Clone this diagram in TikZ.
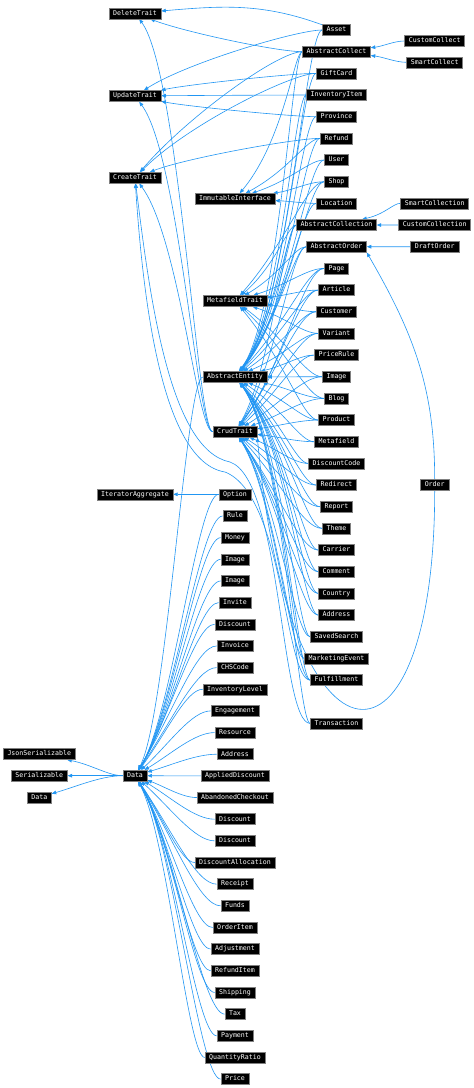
\documentclass[tikz,border=0pt]{standalone}
\usepackage{fontspec}
\setmonofont{DejaVu Sans Mono}
\usetikzlibrary{arrows.meta}
\definecolor{edgeblue}{RGB}{33,150,243}
\definecolor{boxline}{RGB}{128,128,128}
\pgfdeclarelayer{background}
\pgfsetlayers{background,main}
\newdimen\childx \newdimen\childy \newdimen\parentx \newdimen\parenty
% arrow from a class to the class it extends, bent like a dot spline
\newcommand{\inherits}[2]{%
  \pgfextractx{\childx}{\pgfpointanchor{#1}{west}}%
  \pgfextracty{\childy}{\pgfpointanchor{#1}{west}}%
  \pgfextractx{\parentx}{\pgfpointanchor{#2}{east}}%
  \pgfextracty{\parenty}{\pgfpointanchor{#2}{east}}%
  \pgfmathsetmacro\cax{\childx-min(25,0.3*(\childx-\parentx))}%
  \pgfmathsetmacro\cay{\childy}%
  \pgfmathsetmacro\cbx{\parentx+min(25,0.35*(\childx-\parentx))}%
  \pgfmathsetmacro\cby{\parenty+max(-60,min(60,0.5*(\childy-\parenty)))}%
  \draw[link] (#1.west) .. controls (\cax,\cay) and (\cbx,\cby) .. (#2);}

\begin{document}
\begin{tikzpicture}[x=1pt,y=1pt,
cls/.style={draw=boxline,fill=black,text=white,line width=0.5pt,font=\ttfamily\fontsize{6.6}{8}\selectfont,
  inner xsep=4.2pt,inner ysep=1pt,text height=5pt,text depth=1.4pt,minimum height=11pt},
link/.style={draw=edgeblue,line width=0.6pt,-{Triangle[length=4.5pt,width=3.6pt]}}]
\useasboundingbox (0,0) rectangle (474,-1088);
% traits and interfaces
\node[cls] (delete) at (135,-13.3) {DeleteTrait};
\node[cls] (update) at (135,-96) {UpdateTrait};
\node[cls] (create) at (135,-177.7) {CreateTrait};
\node[cls] (iterator) at (135,-494.3) {IteratorAggregate};
\node[cls] (immutable) at (235,-199) {ImmutableInterface};
\node[cls] (metatrait) at (235,-301) {MetafieldTrait};
\node[cls] (entity) at (235,-377) {AbstractEntity};
\node[cls] (crud) at (235,-431.7) {CrudTrait};
\node[cls] (data) at (135,-775.7) {Data};
\node[cls] (jsonser) at (39.3,-754) {JsonSerializable};
\node[cls] (serial) at (39.3,-775.7) {Serializable};
\node[cls] (extdata) at (39.3,-797.3) {Data};
% entities
\foreach \n/\t/\k in {asset/Asset/0,acollect/AbstractCollect/1,giftcard/GiftCard/2,invitem/InventoryItem/3,
  province/Province/4,refund/Refund/5,user/User/6,shop/Shop/7,location/Location/8,
  acollection/AbstractCollection/9,aorder/AbstractOrder/10,page/Page/11,article/Article/12,
  customer/Customer/13,variant/Variant/14,pricerule/PriceRule/15,eimage/Image/16,blog/Blog/17,
  product/Product/18,metafield/Metafield/19,dcode/DiscountCode/20,redirect/Redirect/21,
  report/Report/22,theme/Theme/23,carrier/Carrier/24,comment/Comment/25,country/Country/26,
  eaddress/Address/27,savedsearch/SavedSearch/28,mevent/MarketingEvent/29,
  fulfillment/Fulfillment/30,transaction/Transaction/32}
  \node[cls] (\n) at (336.5,{-30-21.67*\k}) {\t};
\node[cls] (customcollect) at (434.7,-41) {CustomCollect};
\node[cls] (smartcollect) at (434.7,-62.3) {SmartCollect};
\node[cls] (smartcollection) at (434.7,-203.3) {SmartCollection};
\node[cls] (customcollection) at (434.7,-225) {CustomCollection};
\node[cls] (draftorder) at (434.7,-246.7) {DraftOrder};
\node[cls] (order) at (434.7,-485) {Order};
% data objects
\foreach \n/\t [count=\k from 0] in {option/Option,rule/Rule,money/Money,dimagea/Image,dimageb/Image,
  invite/Invite,discounta/Discount,invoice/Invoice,chscode/CHSCode,invlevel/InventoryLevel,
  engagement/Engagement,resource/Resource,daddress/Address,applied/AppliedDiscount,
  abandoned/AbandonedCheckout,discountb/Discount,discountc/Discount,dalloc/DiscountAllocation,
  receipt/Receipt,funds/Funds,orderitem/OrderItem,adjustment/Adjustment,refunditem/RefundItem,
  shipping/Shipping,tax/Tax,payment/Payment,qratio/QuantityRatio,price/Price}
  \node[cls] (\n) at (235,{-494.3-21.66*\k}) {\t};

\begin{pgfonlayer}{background}
\fill[white] (0,0) rectangle (474,-1088);
\draw[link] (asset) to[out=160,in=5,looseness=1] (delete);
\foreach \c/\p in {acollect/delete,crud/delete,asset/update,giftcard/update,invitem/update,
  province/update,crud/update,acollect/create,giftcard/create,refund/create,crud/create,
  acollect/immutable,refund/immutable,user/immutable,
  shop/immutable,location/immutable,customcollect/acollect,smartcollect/acollect,
  smartcollection/acollection,customcollection/acollection,draftorder/aorder,
  option/iterator,data/jsonser,data/serial,data/extdata,entity/data}
  {\inherits{\c}{\p}}
\foreach \c in {shop,acollection,aorder,page,article,customer,variant,eimage,blog,product}
  {\inherits{\c}{metatrait}}
\foreach \c in {asset,acollect,giftcard,invitem,province,refund,user,shop,location,acollection,
  aorder,page,article,customer,variant,pricerule,eimage,blog,product,metafield,dcode,redirect,
  report,theme,carrier,comment,country,eaddress,savedsearch,mevent,fulfillment,transaction}
  {\inherits{\c}{entity}}
\foreach \c in {acollection,aorder,page,article,customer,variant,pricerule,eimage,blog,product,
  metafield,dcode,redirect,report,theme,carrier,comment,country,eaddress,savedsearch,mevent,
  fulfillment}
  {\inherits{\c}{crud}}
\foreach \c in {option,rule,money,dimagea,dimageb,invite,discounta,invoice,chscode,invlevel,
  engagement,resource,daddress,applied,abandoned,discountb,discountc,dalloc,receipt,funds,
  orderitem,adjustment,refunditem,shipping,tax,payment,qratio,price}
  {\inherits{\c}{data}}
% long loops back up to CreateTrait
\draw[link] (transaction.west) .. controls (280,-723) and (282,-480) .. (230,-462)
  .. controls (170,-450) and (150,-300) .. (create);
\draw[link] (fulfillment.west) .. controls (285,-680) and (284,-495) .. (225,-472)
  .. controls (162,-462) and (143,-300) .. (create);
\draw[link] (order) to[out=90,in=-60] (aorder.south east);
\draw[link] (order.south) .. controls (434.7,-790) and (290,-790) .. (crud.south east);
\end{pgfonlayer}
\end{tikzpicture}
\end{document}
